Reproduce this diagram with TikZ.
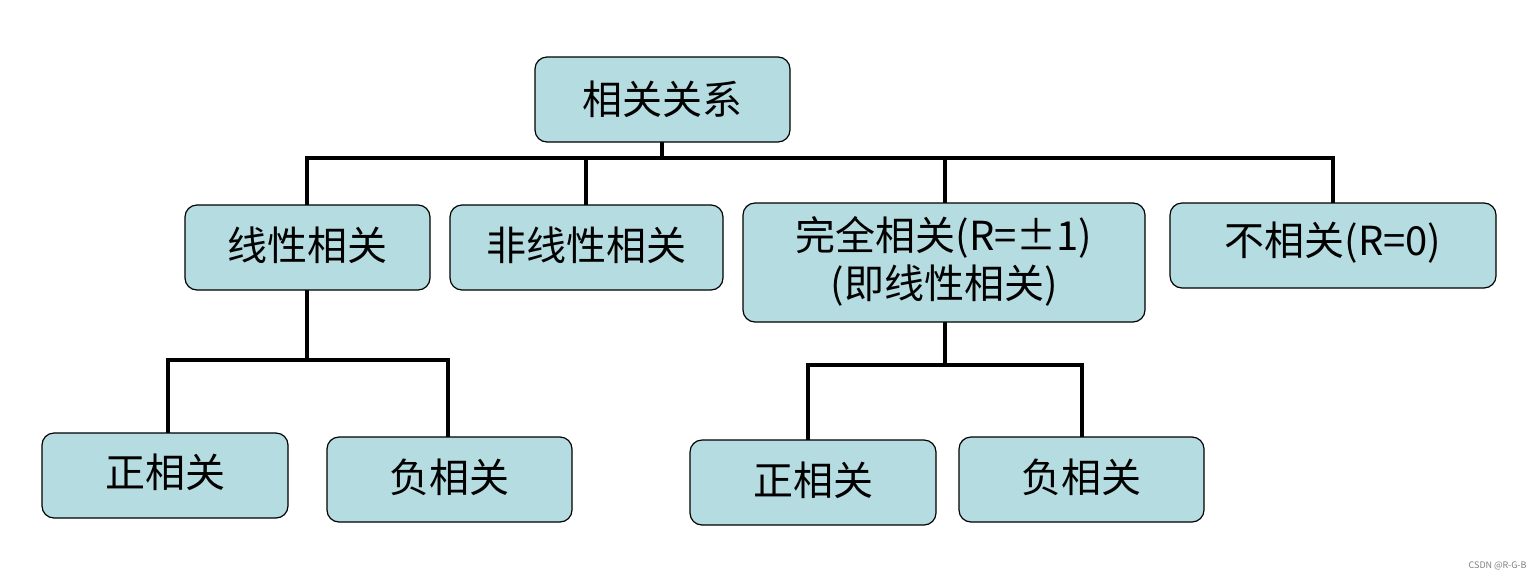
\documentclass[tikz,border=0pt]{standalone}
\usepackage{fontspec}
\setmainfont{Noto Sans CJK SC}
\definecolor{boxfill}{HTML}{B5DCE0}
\begin{document}
\begin{tikzpicture}[x=1pt,y=-1pt,
  bx/.style={draw=black,line width=1.2pt,fill=boxfill,rounded corners=12pt},
  ln/.style={line width=4.5pt},
  txt/.style={font=\fontsize{40}{48}\selectfont,align=center}]
\useasboundingbox (0,0) rectangle (1536,582);
\fill[white] (0,0) rectangle (1536,582);
% lines
\coordinate (j0) at (662,158);
\draw[ln] (662,142) -- (j0);
\draw[ln] (307,205) -- (307,158) -- (1333,158) -- (1333,203);
\draw[ln] (586,158) -- (586,205);
\draw[ln] (945,158) -- (945,203);
\draw[ln] (307,290) -- (307,360);
\draw[ln] (168,433) -- (168,360) -- (448,360) -- (448,437);
\draw[ln] (945,322) -- (945,365);
\draw[ln] (808,440) -- (808,365) -- (1082,365) -- (1082,437);
% boxes
\draw[bx] (535,57) rectangle (790,142); \node[txt] (root) at (662,99) {相关关系};
\draw[bx] (185,205) rectangle (430,290); \node[txt] (a) at (307,245) {线性相关};
\draw[bx] (450,205) rectangle (723,290); \node[txt] (b) at (586,245) {非线性相关};
\draw[bx] (743,203) rectangle (1145,322); \node[txt] (c) at (944,261) {完全相关(R=±1)\\(即线性相关)};
\draw[bx] (1170,203) rectangle (1496,288); \node[txt] (d) at (1333,243) {不相关(R=0)};
\draw[bx] (42,433) rectangle (288,518); \node[txt] (e) at (165,472) {正相关};
\draw[bx] (327,437) rectangle (572,522); \node[txt] (f) at (449,477) {负相关};
\draw[bx] (690,440) rectangle (936,525); \node[txt] (g) at (813,480) {正相关};
\draw[bx] (959,437) rectangle (1204,522); \node[txt] (h) at (1081,477) {负相关};
\node[font=\fontsize{9}{10}\selectfont,text=gray,anchor=east] (w) at (1530,566) {CSDN @R-G-B};
\end{tikzpicture}
\end{document}
